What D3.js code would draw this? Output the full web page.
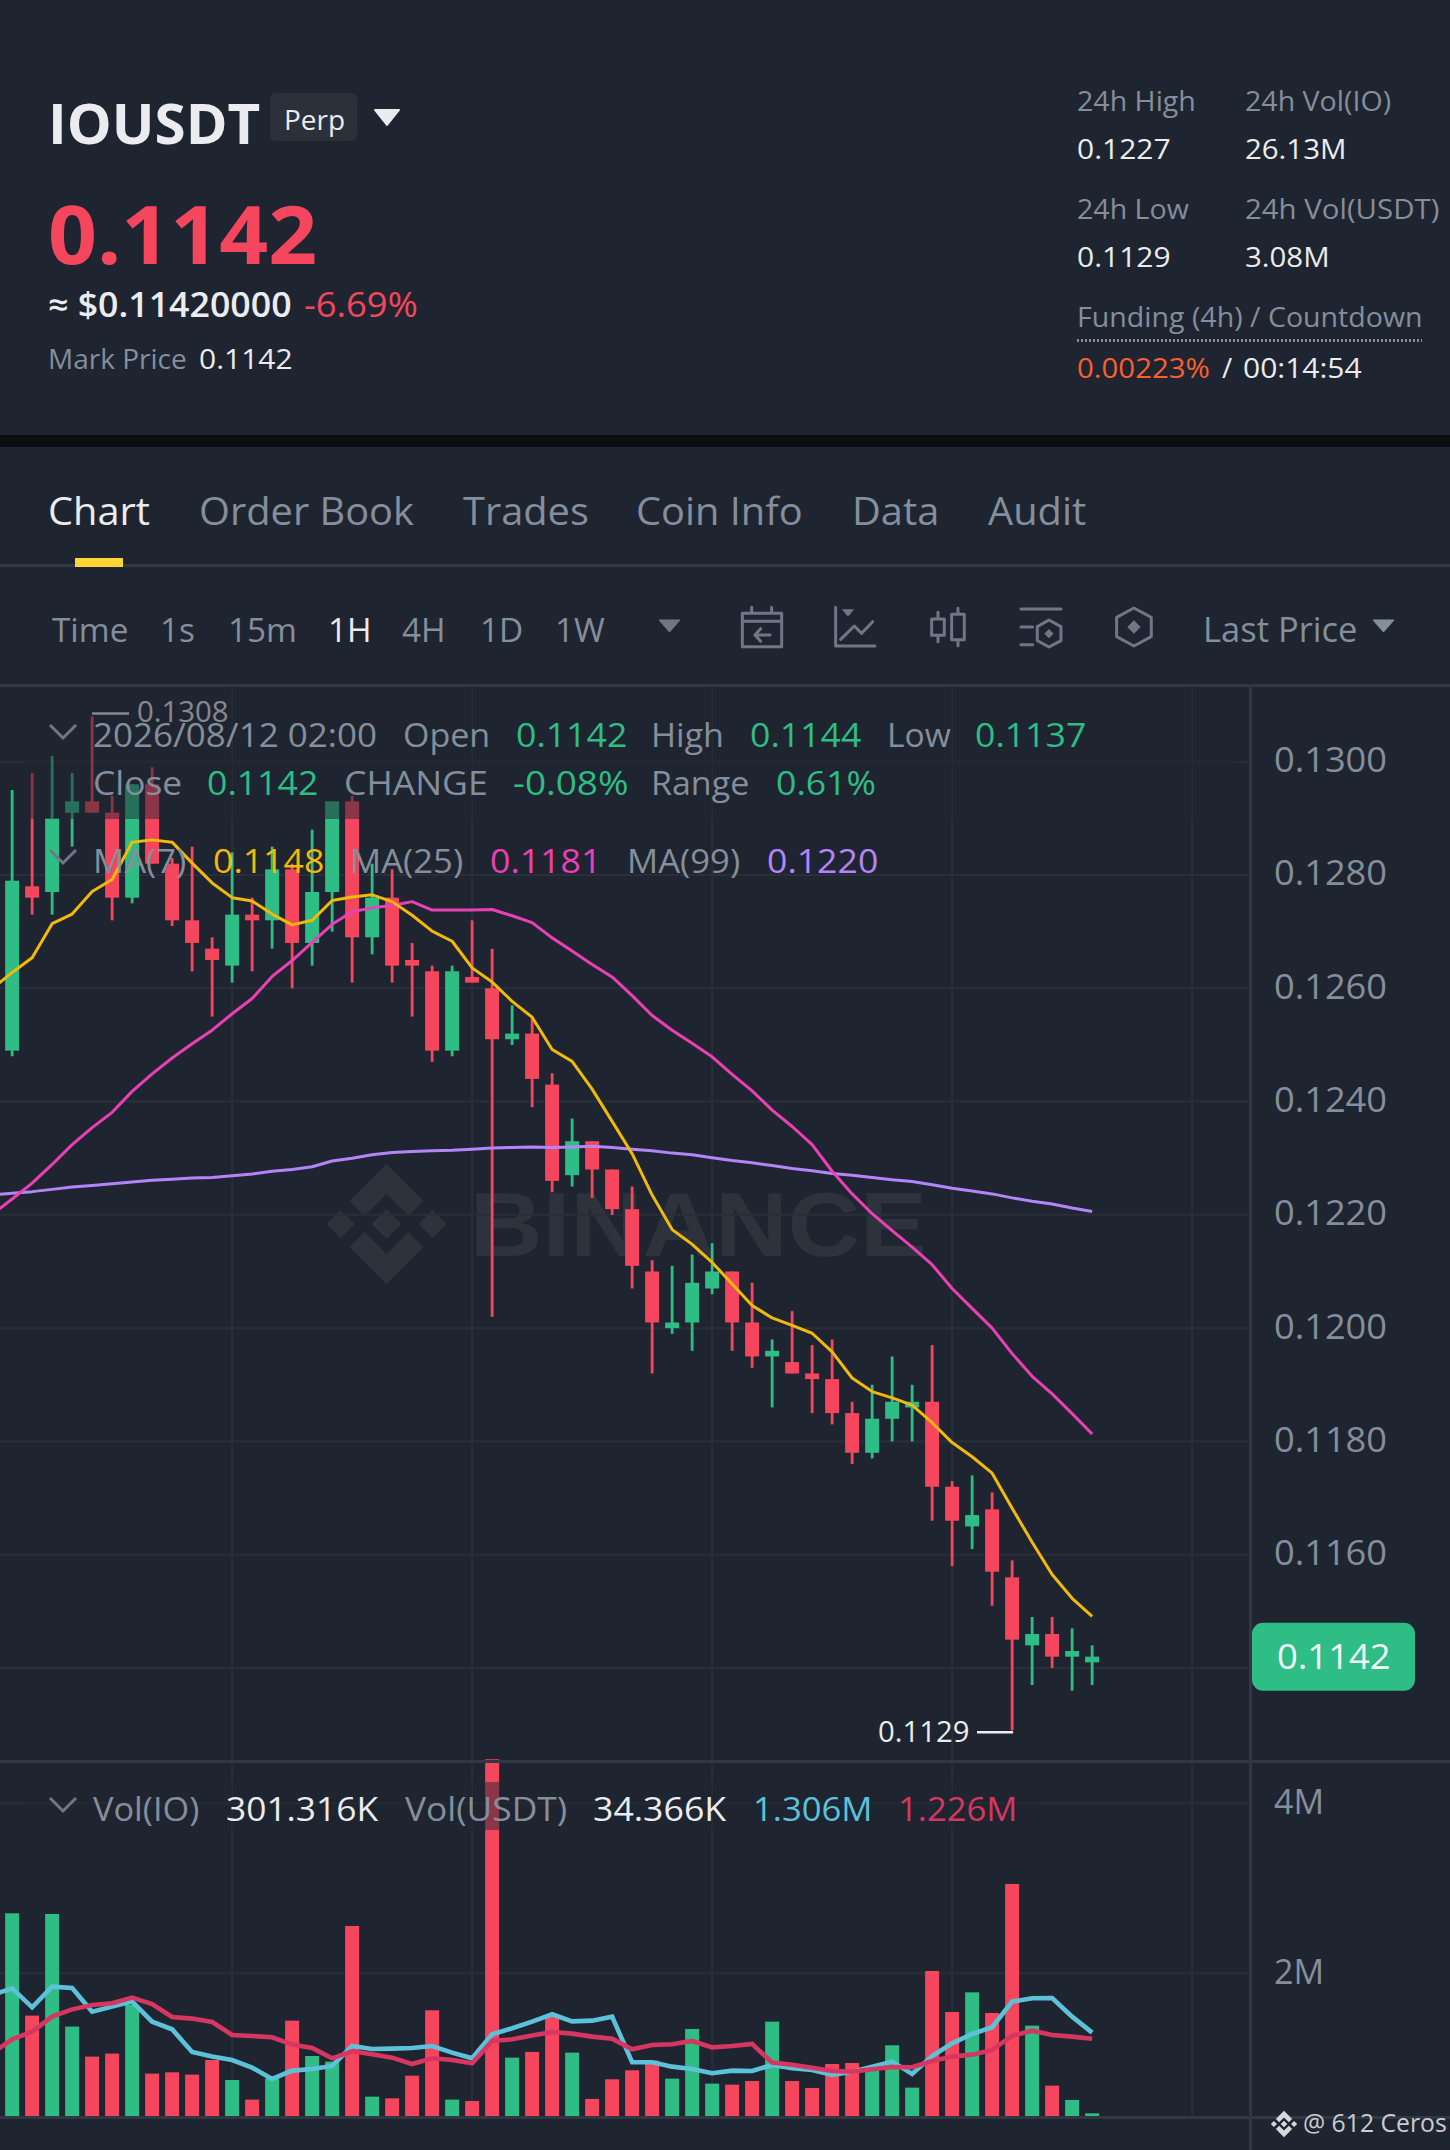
<!DOCTYPE html>
<html lang="en">
  <head>
    <meta charset="UTF-8" />
    <script src="https://cdn.jsdelivr.net/npm/d3@7"></script>
    <style>
      body { margin: 0; background: #1f2530; }
      svg { display: block; }
      text { font-family: "Open Sans", sans-serif; }
    </style>
  </head>
  <body>
    <div id="fig"></div>
    <script>
      // candles (tick is 0.0001)
      const candleOpen = [.1249,.1278,.1277,.1291,.1293,.1291,.1276,.1296,.1282,.1272,.1267,.1264,.1273,.1272,.1281,.1268,.1277,.1293,.1269,.1276,.1265,.1263,.1249,.1262,.1260,.1251,.1252,.1243,.1227,.1233,.1228,.1221,.1210,.1200,.1201,.1207,.1210,.1201,.1195,.1194,.1192,.1191,.1185,.1178,.1184,.1186,.1187,.1172,.1165,.1168,.1156,.1144,.1146,.1142,.1141];
      const candleHigh = [.1295,.1298,.1301,.1298,.1308,.1294,.1296,.1299,.1283,.1285,.1269,.1284,.1276,.1285,.1282,.1288,.1293,.1294,.1282,.1281,.1268,.1264,.1264,.1272,.1267,.1257,.1255,.1245,.1237,.1233,.1228,.1225,.1212,.1211,.1213,.1215,.1210,.1208,.1198,.1203,.1197,.1198,.1187,.1190,.1195,.1190,.1197,.1173,.1174,.1171,.1159,.1149,.1149,.1147,.1144];
      const candleLow = [.1248,.1273,.1273,.1285,.1291,.1272,.1275,.1282,.1271,.1263,.1255,.1261,.1263,.1267,.1260,.1264,.1270,.1261,.1266,.1261,.1255,.1247,.1248,.1261,.1202,.1250,.1239,.1224,.1225,.1223,.1220,.1207,.1192,.1199,.1196,.1206,.1196,.1193,.1186,.1192,.1185,.1183,.1176,.1177,.1180,.1180,.1166,.1158,.1161,.1151,.1129,.1137,.1140,.1136,.1137];
      const candleClose = [.1279,.1276,.1290,.1293,.1291,.1276,.1296,.1282,.1272,.1268,.1265,.1273,.1272,.1281,.1268,.1277,.1293,.1269,.1276,.1264,.1264,.1249,.1263,.1261,.1251,.1252,.1244,.1226,.1233,.1228,.1221,.1211,.1201,.1201,.1208,.1210,.1201,.1195,.1196,.1192,.1191,.1185,.1178,.1184,.1187,.1187,.1172,.1166,.1167,.1157,.1145,.1146,.1142,.1143,.1142];

      // moving averages start one candle left of the frame
      const ma7 = [.12599,.12628,.12654,.12714,.12731,.12771,.12792,.12858,.12862,.12858,.12821,.12786,.12760,.12754,.12731,.12712,.12720,.12755,.12761,.12765,.12753,.12729,.12701,.12683,.12636,.12611,.12577,.12549,.12492,.12471,.12422,.12365,.12308,.12235,.12174,.12148,.12116,.12078,.12040,.12018,.12005,.11991,.11958,.11912,.11888,.11877,.11864,.11833,.11798,.11773,.11744,.11682,.11622,.11565,.11523,.11491];
      const ma25 = [.12201,.12228,.12256,.12289,.12324,.12354,.12381,.12418,.12449,.12477,.12502,.12526,.12555,.12582,.12621,.12649,.12681,.12713,.12735,.12742,.12746,.12753,.12738,.12738,.12738,.12739,.12728,.12716,.12689,.12666,.12642,.12620,.12587,.12552,.12526,.12503,.12479,.12448,.12419,.12385,.12356,.12324,.12277,.12237,.12202,.12172,.12143,.12112,.12070,.12035,.12000,.11955,.11915,.11884,.11849,.11813];
      const ma99 = [.12235,.12238,.12241,.12245,.12249,.12252,.12255,.12258,.12261,.12263,.12265,.12266,.12269,.12272,.12277,.12280,.12285,.12295,.12300,.12306,.12310,.12312,.12313,.12314,.12316,.12318,.12319,.12320,.12319,.12320,.12321,.12319,.12316,.12313,.12309,.12306,.12301,.12296,.12292,.12287,.12282,.12278,.12273,.12270,.12266,.12262,.12259,.12253,.12247,.12242,.12237,.12230,.12224,.12219,.12212,.12206];

      // volume in millions
      const volume = [2.706,1.502,2.698,1.373,1.020,1.055,1.627,.820,.835,.808,.980,.745,.514,.765,1.443,1.027,.961,2.557,.549,.529,.796,1.565,.514,.498,4.518,1.008,1.075,1.490,1.067,.522,.753,.859,.973,.761,1.345,.702,.690,.733,1.431,.733,.651,.933,.945,.902,1.153,.655,2.027,1.545,1.776,1.533,3.051,1.384,.678,.510,.353];
      const volMaBlue = [1.745,1.824,1.600,1.843,1.827,1.549,1.608,1.667,1.431,1.341,1.075,1.020,.980,.890,.757,.855,.875,.910,1.145,1.110,1.114,1.122,1.145,1.067,1.000,1.282,1.353,1.431,1.518,1.435,1.443,1.490,.953,.953,.902,.875,.824,.855,.851,.922,.882,.863,.804,.843,.902,.961,.816,1.027,1.176,1.286,1.365,1.667,1.706,1.710,1.490,1.302];
      const volMaRed = [1.059,1.224,1.314,1.490,1.576,1.627,1.647,1.714,1.639,1.486,1.467,1.427,1.275,1.263,1.247,1.161,1.122,1.000,1.082,1.047,1.008,.933,1.000,.980,.941,1.204,1.224,1.267,1.310,1.290,1.255,1.231,1.106,1.157,1.165,1.204,1.129,1.145,1.169,.949,.925,.890,.851,.843,.871,.898,.894,.969,1.020,1.043,1.098,1.263,1.325,1.275,1.255,1.231];

      const priceTicks = [.13,.128,.126,.124,.122,.12,.118,.116,.114];
      const volTicks = [2,4];
      const timeGridCandles = [11,23,35,47,59];
      const lastPrice = .1142;
      const highMark = .1308;
      const lowMark = .1129;

      const tabs = [["Chart",48],["Order Book",199],["Trades",463],["Coin Info",636],["Data",852],["Audit",988]];
      const intervals = [["Time",52],["1s",160],["15m",228],["1H",328],["4H",402],["1D",480],["1W",555]];

      const width = 1450, height = 2150;
      const BG = "#1f2530", GREEN = "#2ebd85", RED = "#f6465d", GREY = "#848e9c", WHITE = "#eaecef";
      const GRID = "#292f3a", RULE = "#313743", ICON = "#6f7785";
      const YELLOW = "#f0b90b", PINK = "#eb40b5", PURPLE = "#b385f8", VBLUE = "#5bc2da", VRED = "#d6365f";

      const svg = d3.select("#fig").append("svg").attr("width", width).attr("height", height);
      svg.append("rect").attr("width", width).attr("height", height).attr("fill", BG);

      const x = d3.scaleLinear().domain([0, 54]).range([12.14, 1092.14]);
      const y = d3.scaleLinear().domain([.128, .114]).range([875, 1668]);
      const yVol = d3.scaleLinear().domain([0, 4]).range([2143.3, 1803.3]);

      // the app font has wider digits than anything installed, so numbers get stretched a little
      function txt(s, px, py, size, fill, opts = {}) {
        const t = svg.append("text").text(s).attr("x", px).attr("y", py)
          .attr("font-size", size).attr("fill", fill)
          .attr("font-weight", opts.weight || 400)
          .attr("text-anchor", opts.anchor || "start");
        const k = opts.k || (/^[-≈$ \d.:%]+$/.test(s) ? 1.07 : /^[\d.]+[KM]$/.test(s) ? 1.05 : 1);
        if (k !== 1) t.attr("textLength", t.node().getComputedTextLength() * k).attr("lengthAdjust", "spacingAndGlyphs");
        return t;
      }

      // ---- header
      txt("IOUSDT", 48, 144, 56, WHITE, { weight: 700, k: 1.01 });
      svg.append("rect").attr("x", 270).attr("y", 93).attr("width", 87).attr("height", 48).attr("rx", 6).attr("fill", "#2b303b");
      txt("Perp", 284, 130, 28, WHITE);
      svg.append("path").attr("d", "M375,110 L399,110 L387,125 Z").attr("fill", WHITE).attr("stroke", WHITE).attr("stroke-width", 2).attr("stroke-linejoin", "round");
      txt("0.1142", 48, 264, 80, RED, { weight: 700 });
      txt("≈ $0.11420000", 48, 317, 34, WHITE, { weight: 600, k: 1.05 });
      txt("-6.69%", 304, 317, 34, RED, { weight: 500 });
      txt("Mark Price", 48, 369, 28, GREY);
      txt("0.1142", 199, 369, 28, WHITE);

      txt("24h High", 1077, 111, 28, GREY, { k: 1.02 });
      txt("24h Vol(IO)", 1245, 111, 28, GREY, { k: 1.02 });
      txt("0.1227", 1077, 159, 28, WHITE);
      txt("26.13M", 1245, 159, 28, WHITE);
      txt("24h Low", 1077, 219, 28, GREY, { k: 1.02 });
      txt("24h Vol(USDT)", 1245, 219, 28, GREY, { k: 1.05 });
      txt("0.1129", 1077, 267, 28, WHITE);
      txt("3.08M", 1245, 267, 28, WHITE);
      txt("Funding (4h) / Countdown", 1077, 327, 28, GREY, { k: 1.02 });
      svg.append("line").attr("x1", 1077).attr("x2", 1422).attr("y1", 340.5).attr("y2", 340.5)
        .attr("stroke", GREY).attr("stroke-width", 3).attr("stroke-dasharray", "2 2");
      txt("0.00223%", 1077, 378, 28, "#fb5f2f", { k: 1.05 });
      txt("/", 1222, 378, 28, WHITE);
      txt("00:14:54", 1243, 378, 28, WHITE);

      svg.append("rect").attr("y", 435).attr("width", width).attr("height", 12).attr("fill", "#0b0e11");

      // ---- tabs and toolbar
      tabs.forEach(([s, px], i) => txt(s, px, 525, 39, i === 0 ? WHITE : GREY, { weight: 500, k: 1.02 }));
      svg.append("rect").attr("y", 564).attr("width", width).attr("height", 3).attr("fill", RULE);
      svg.append("rect").attr("x", 75).attr("y", 558).attr("width", 48).attr("height", 9).attr("fill", "#fcd535");
      intervals.forEach(([s, px]) => txt(s, px, 642, 33, s === "1H" ? WHITE : GREY, { k: 1.01 }));
      svg.append("path").attr("d", "M659,620 L680,620 L669.5,632 Z").attr("fill", ICON).attr("stroke", ICON).attr("stroke-linejoin", "round");
      txt("Last Price", 1203, 642, 34, GREY, { k: 1.015 });
      svg.append("path").attr("d", "M1373,620 L1394,620 L1383.5,632 Z").attr("fill", GREY).attr("stroke", GREY).attr("stroke-linejoin", "round");
      svg.append("rect").attr("y", 684).attr("width", width).attr("height", 3).attr("fill", RULE);

      // toolbar icons, drawn in a 3x box
      const icons = svg.append("g").attr("transform", "translate(720,590) scale(0.3333)")
        .attr("fill", "none").attr("stroke", ICON).attr("stroke-width", 9).attr("stroke-linecap", "round").attr("stroke-linejoin", "round");
      icons.append("path").attr("d", "M67,70H185V170H67Z M67,94H185 M95,52V70 M155,52V70 M108,135H150 M122,116L105,135L122,154");
      icons.append("path").attr("d", "M347,52V168H465 M362,148L403,108L425,130L458,95");
      icons.append("path").attr("d", "M366,58H402L384,80Z").attr("fill", ICON).attr("stroke", "none");
      icons.append("path").attr("d", "M635,87H673V136H635Z M654,67V87 M654,136V155 M695,73H733V149H695Z M714,55V73 M714,149V167");
      icons.append("path").attr("d", "M903,57H1023 M903,111H938 M903,164H938 M987,90L1023,110V152L987,171L952,152V110Z");
      icons.append("path").attr("d", "M987,117L1001,131L987,145L973,131Z").attr("fill", ICON).attr("stroke", "none");
      icons.append("path").attr("d", "M1242,54L1294,82V140L1242,168L1190,140V82Z");
      icons.append("path").attr("d", "M1242,91L1262,111L1242,131L1222,111Z").attr("fill", ICON).attr("stroke", "none");

      // ---- watermark
      const logoParts = ["M0,-60L37,-23L22,-8L0,-30L-22,-8L-37,-23Z", "M0,60L37,23L22,8L0,30L-22,8L-37,23Z",
        "M0,-15L15,0L0,15L-15,0Z", "M-46,-14L-32,0L-46,14L-60,0Z", "M46,-14L60,0L46,14L32,0Z"];
      const logo = (cx, cy, k, fill) => svg.append("g").attr("transform", `translate(${cx},${cy}) scale(${k})`)
        .selectAll("path").data(logoParts).join("path").attr("d", (d) => d).attr("fill", fill);
      logo(386.5, 1224, 1, "#2d323d");
      svg.append("text").text("BINANCE").attr("x", 470).attr("y", 1256).attr("font-size", 90)
        .attr("font-weight", 700).attr("fill", "#2d323d").style("font-family", "'Liberation Sans'")
        .attr("textLength", 457).attr("lengthAdjust", "spacingAndGlyphs");

      // ---- grid
      const grid = svg.append("g").attr("stroke", GRID).attr("stroke-width", 2);
      grid.selectAll(".h").data(priceTicks).join("line").attr("x2", 1250).attr("y1", (d) => y(d)).attr("y2", (d) => y(d));
      grid.selectAll(".v").data(volTicks).join("line").attr("class", "v").attr("x2", 1250).attr("y1", (d) => yVol(d)).attr("y2", (d) => yVol(d));
      grid.selectAll(".t").data(timeGridCandles).join("line").attr("class", "t").attr("x1", (d) => x(d)).attr("x2", (d) => x(d)).attr("y1", 687).attr("y2", 2117);

      // ---- candles
      const idx = d3.range(candleOpen.length);
      const colour = (i) => (candleClose[i] >= candleOpen[i] ? GREEN : RED);
      const candles = svg.append("g");
      candles.selectAll("line").data(idx).join("line")
        .attr("x1", (i) => x(i)).attr("x2", (i) => x(i))
        .attr("y1", (i) => y(candleHigh[i])).attr("y2", (i) => y(candleLow[i]))
        .attr("stroke", colour).attr("stroke-width", 2.8);
      candles.selectAll("rect").data(idx).join("rect")
        .attr("x", (i) => x(i) - 7).attr("width", 14)
        .attr("y", (i) => y(Math.max(candleOpen[i], candleClose[i])))
        .attr("height", (i) => Math.abs(y(candleOpen[i]) - y(candleClose[i])))
        .attr("fill", colour);

      // ---- moving averages
      const maLine = (scale) => d3.line().x((d, i) => x(i - 1)).y((d) => scale(d));
      [[ma99, PURPLE], [ma25, PINK], [ma7, YELLOW]].forEach(([s, c]) => {
        svg.append("path").attr("d", maLine(y)(s)).attr("fill", "none").attr("stroke", c).attr("stroke-width", 3).attr("stroke-linejoin", "round");
      });

      // high / low marks
      const hy = y(highMark) - 3, ly = y(lowMark) + 2;
      svg.append("line").attr("x1", 92).attr("x2", 129).attr("y1", hy).attr("y2", hy).attr("stroke", WHITE).attr("stroke-width", 2.5);
      txt("0.1308", 137, hy + 9, 29, WHITE, { k: 1.01 });
      svg.append("line").attr("x1", 977).attr("x2", x(50) + 1).attr("y1", ly).attr("y2", ly).attr("stroke", WHITE).attr("stroke-width", 2.5);
      txt("0.1129", 878, ly + 10, 29, WHITE, { k: 1.01 });

      // ---- volume pane
      svg.append("clipPath").attr("id", "volClip").append("rect").attr("y", 1759).attr("width", 1250).attr("height", 358);
      const vols = svg.append("g").attr("clip-path", "url(#volClip)");
      vols.selectAll("rect").data(idx).join("rect")
        .attr("x", (i) => x(i) - 7).attr("width", 14)
        .attr("y", (i) => yVol(volume[i])).attr("height", (i) => yVol(0) - yVol(volume[i]))
        .attr("fill", colour);
      [[volMaBlue, VBLUE], [volMaRed, VRED]].forEach(([s, c]) => {
        vols.append("path").attr("d", maLine(yVol)(s)).attr("fill", "none").attr("stroke", c).attr("stroke-width", 4.6);
      });

      // legend veils dim what runs under the rows
      svg.append("rect").attr("x", 24).attr("y", 687).attr("width", 1214).attr("height", 132).attr("fill", BG).attr("opacity", 0.5);
      svg.append("rect").attr("x", 24).attr("y", 1782).attr("width", 1017).attr("height", 48).attr("fill", BG).attr("opacity", 0.5);

      // pane rules
      svg.append("rect").attr("y", 1760).attr("width", width).attr("height", 3).attr("fill", RULE);
      svg.append("rect").attr("y", 2116).attr("width", width).attr("height", 3).attr("fill", RULE);
      svg.append("rect").attr("x", 1249).attr("y", 687).attr("width", 3).attr("height", height - 687).attr("fill", RULE);

      // ---- axes
      const styleAxis = (g) => {
        g.select(".domain").remove();
        g.selectAll("text").attr("font-size", 34).attr("fill", GREY).style("font-family", "'Open Sans'");
      };
      svg.append("g").attr("transform", "translate(1250,-1)")
        .call(d3.axisRight(y).tickValues(priceTicks.slice(0, -1)).tickFormat(d3.format(".4f")).tickSize(0).tickPadding(24)).call(styleAxis)
        .selectAll("text").each(function () {
          d3.select(this).attr("textLength", this.getComputedTextLength() * 1.065).attr("lengthAdjust", "spacingAndGlyphs");
        });
      svg.append("g").attr("transform", "translate(1250,-1)")
        .call(d3.axisRight(yVol).tickValues(volTicks).tickFormat((d) => d + "M").tickSize(0).tickPadding(24)).call(styleAxis);

      // last price tag
      svg.append("rect").attr("x", 1252).attr("y", y(lastPrice) - 34).attr("width", 163).attr("height", 68).attr("rx", 11).attr("fill", GREEN);
      txt(d3.format(".4f")(lastPrice), 1277, y(lastPrice) + 12, 34, "#f4f6f8");

      // ---- legends
      const chevron = (cy) => svg.append("path").attr("d", `M50,${cy - 7}L63,${cy + 6}L76,${cy - 7}`)
        .attr("fill", "none").attr("stroke", ICON).attr("stroke-width", 3);
      chevron(732); chevron(857); chevron(1805);
      const row = (py, items) => items.forEach(([s, px, c, k]) => txt(s, px, py, 33, c, { k }));
      row(747, [["2026/08/12 02:00", 93, GREY, 1.06], ["Open", 403, GREY, 1.03], ["0.1142", 516, GREEN, 1.08], ["High", 651, GREY, 1.03], ["0.1144", 750, GREEN, 1.08], ["Low", 887, GREY, 1.02], ["0.1137", 975, GREEN, 1.08]]);
      row(795, [["Close", 93, GREY, 1.07], ["0.1142", 207, GREEN, 1.08], ["CHANGE", 344, GREY, 1.08], ["-0.08%", 513, GREEN, 1.12], ["Range", 651, GREY, 1.03], ["0.61%", 776, GREEN, 1.08]]);
      row(873, [["MA(7)", 93, GREY, 1.05], ["0.1148", 213, YELLOW, 1.08], ["MA(25)", 350, GREY, 1.05], ["0.1181", 490, PINK, 1.08], ["MA(99)", 627, GREY, 1.05], ["0.1220", 767, PURPLE, 1.08]]);
      row(1821, [["Vol(IO)", 93, GREY, 1.04], ["301.316K", 226, WHITE, 1.07], ["Vol(USDT)", 405, GREY, 1.07], ["34.366K", 593, WHITE, 1.08], ["1.306M", 753, VBLUE], ["1.226M", 898, VRED]]);

      // share stamp
      logo(1284, 2124, 0.22, "#d5d8dc");
      txt("@ 612 Ceros", 1303, 2132, 25, "#c9ccd1", { k: 0.99 });
    </script>
  </body>
</html>
